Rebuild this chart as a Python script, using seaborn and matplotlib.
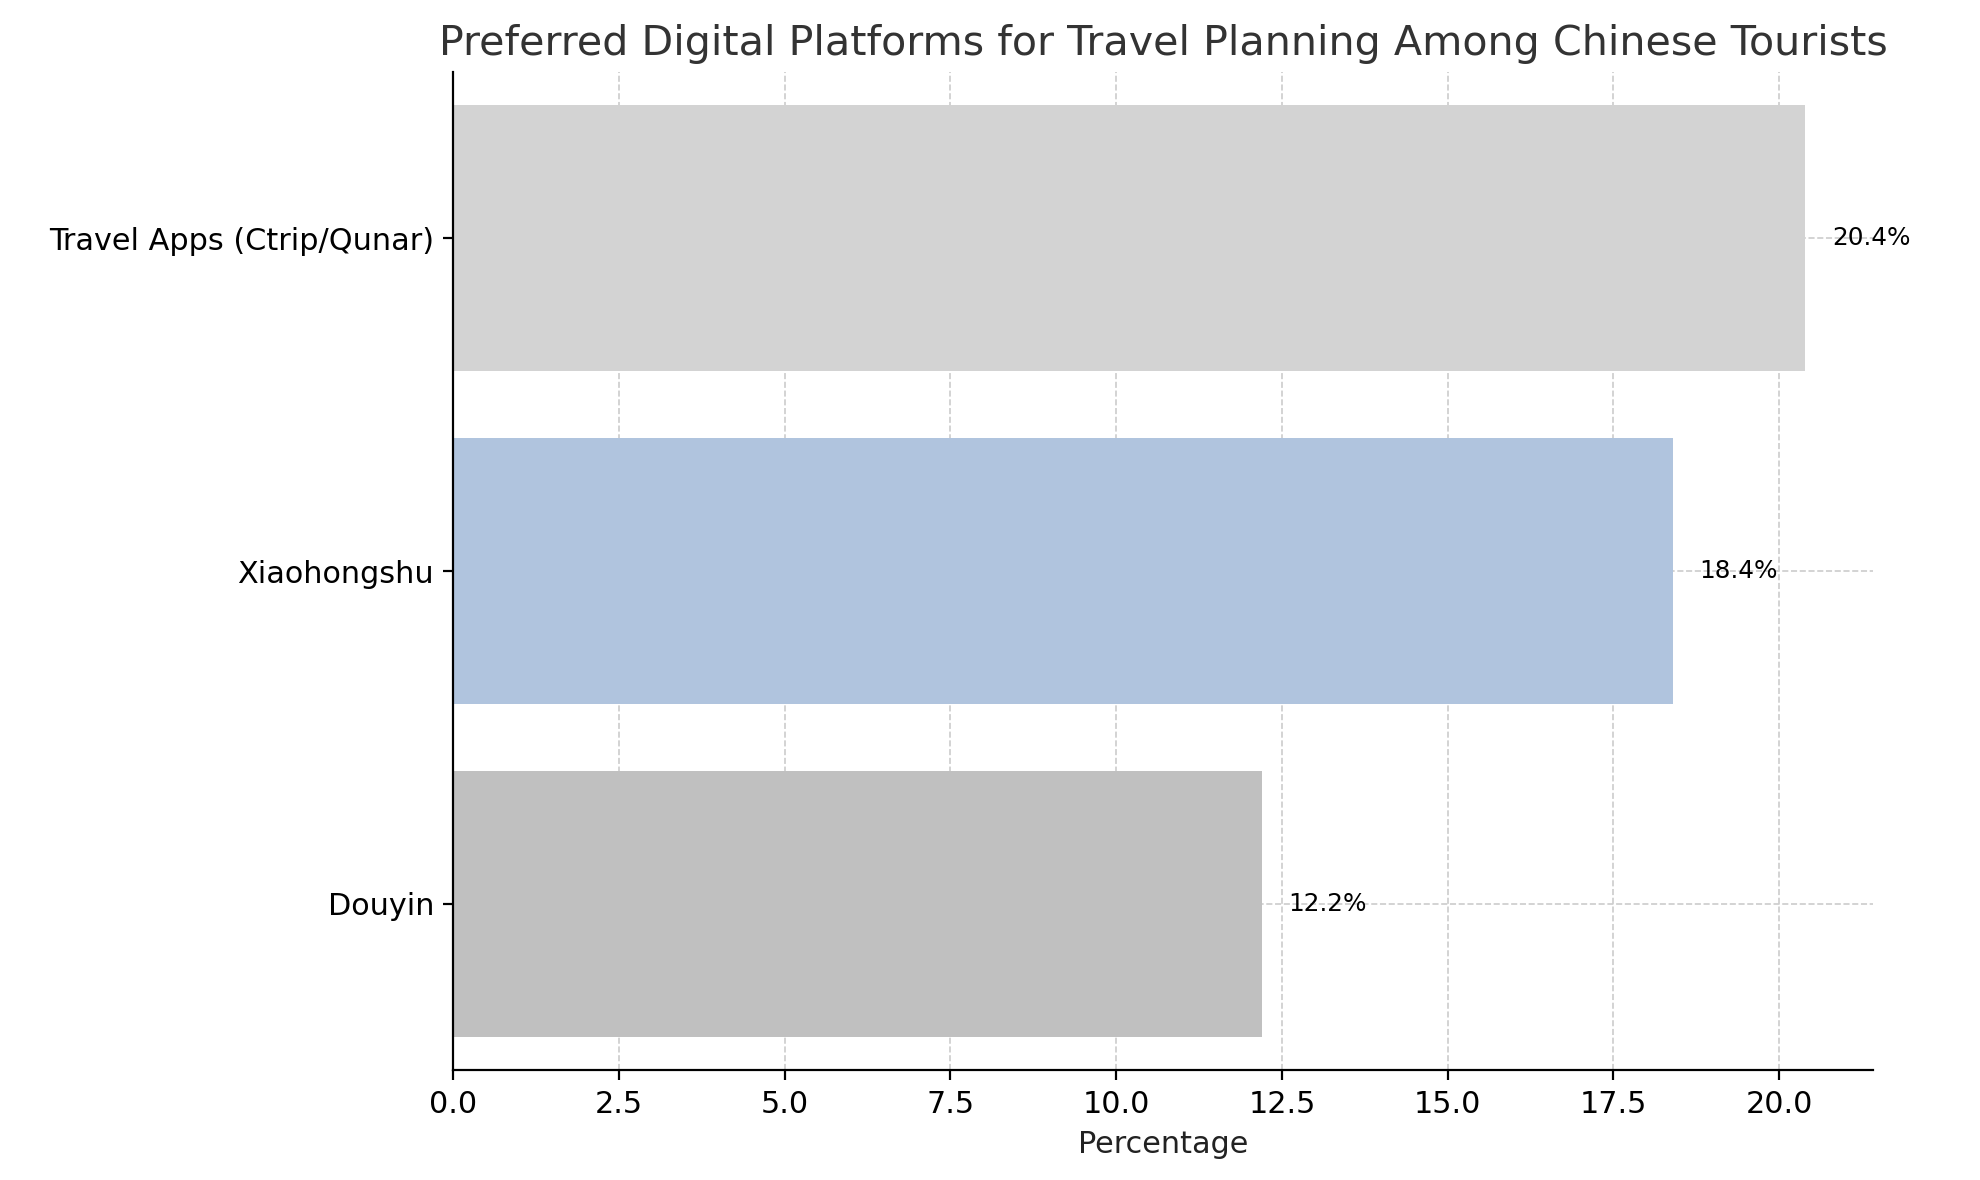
import matplotlib
matplotlib.use("Agg")
import matplotlib.pyplot as plt
import seaborn as sns
import pandas as pd

platforms = ["Travel Apps (Ctrip/Qunar)", "Xiaohongshu", "Douyin"]
percentages = [20.4, 18.4, 12.2]
colors = ["#d3d3d3", "#b0c4de", "#c0c0c0"]

df = pd.DataFrame({"Platform": platforms, "Percentage": percentages})

fig, ax = plt.subplots(figsize=(10, 5.96), dpi=198)
fig.subplots_adjust(left=0.229, right=0.946, top=0.939, bottom=0.093)
sns.barplot(data=df, y="Platform", x="Percentage", hue="Platform", palette=colors,
            legend=False, ax=ax, width=0.8, saturation=1, zorder=2)
ax.grid(True, linestyle="--", color="#cccccc", linewidth=0.6, zorder=0)
ax.set_axisbelow(True)
for i, v in enumerate(percentages):
    ax.text(v + 0.4, i, f"{v}%", va="center", ha="left", fontsize=9, color="black")
ax.set_xlim(0, 21.42)
ax.set_ylabel("")
ax.set_xlabel("Percentage", fontsize=11, color="#222222")
ax.tick_params(axis="both", labelsize=11)
ax.spines["top"].set_visible(False)
ax.spines["right"].set_visible(False)
ax.set_title("Preferred Digital Platforms for Travel Planning Among Chinese Tourists",
             fontsize=15, color="#333333")
fig.savefig("out.png", dpi=198)
